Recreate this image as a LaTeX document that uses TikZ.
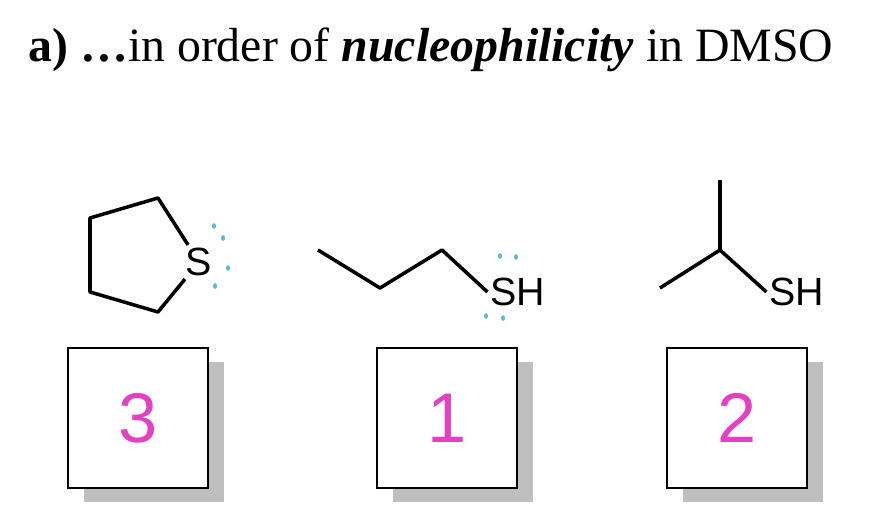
\documentclass[tikz,border=0pt]{standalone}
\usepackage{fontspec}
\setmainfont{Liberation Serif}
\setsansfont{Liberation Sans}
\usepackage{xcolor}
\definecolor{pen}{RGB}{228,64,196}
\definecolor{pair}{RGB}{90,185,205}
\begin{document}
\begin{tikzpicture}[x=0.025cm, y=-0.025cm, line width=2.5pt,
  atom/.style={font=\sffamily\fontsize{28}{28}\selectfont, inner sep=1pt},
  answer/.style={draw, line width=2pt, minimum size=3.5cm, fill=white},
  shade/.style={fill=black!25, minimum size=3.5cm},
  digit/.style={text=pen, font=\sffamily\fontsize{50}{50}\selectfont}]
\useasboundingbox (0,0) rectangle (884,513);
\node[anchor=base west, font=\fontsize{34}{40}\selectfont] (title) at (22,62)
  {\textbf{a) \dots}in order of \textbf{\textit{nucleophilicity}} in DMSO};
% ring with S
\node[atom] (s1) at (199,262) {S};
\coordinate (r1) at (158,198);
\coordinate (r2) at (90,218);
\coordinate (r3) at (90,292);
\coordinate (r4) at (158,312);
\draw[line join=round] (s1) -- (r1) -- (r2) -- (r3) -- (r4) -- (s1);
\foreach \p/\a in {214/226, 223/238, 228/268, 215/286}
  \fill[pair] (\p,\a) ellipse (1.4pt and 2pt);
% propyl thiol
\node[atom] (s2) at (518,292) {SH};
\coordinate (c1) at (318,250);
\coordinate (c2) at (380,288);
\coordinate (c3) at (442,250);
\draw[line join=round] (c1) -- (c2) -- (c3) -- (s2.west);
\foreach \p/\a in {500/256, 516/257, 486/316, 503/318}
  \fill[pair] (\p,\a) ellipse (1.4pt and 2pt);
% isopropyl thiol
\node[atom] (s3) at (797,292) {SH};
\coordinate (i1) at (660,288);
\coordinate (i2) at (720,250);
\coordinate (i3) at (720,180);
\draw[line join=round] (i1) -- (i2) -- (s3.west);
\draw (i2) -- (i3);
% answer boxes
\foreach \n/\x/\d in {b1/138/3, b2/447/1, b3/737/2} {
  \node[shade] at (\x+16,432) {};
  \node[answer] (\n) at (\x,418) {};
  \node[digit] at (\n) {\d};
}
\end{tikzpicture}
\end{document}
